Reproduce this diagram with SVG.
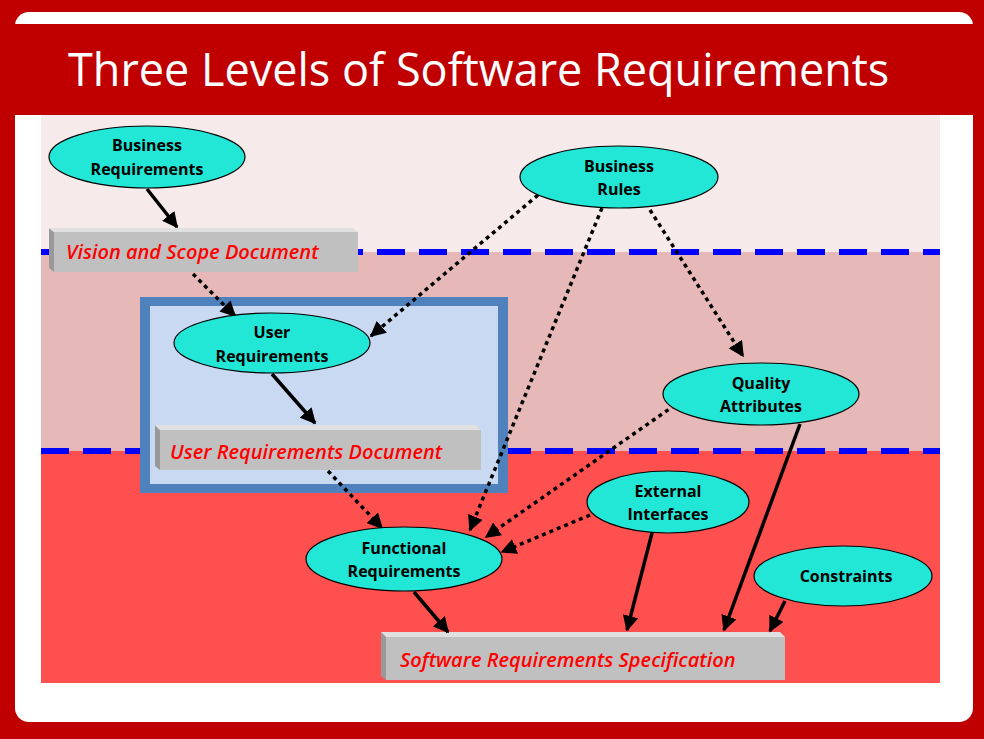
<svg xmlns="http://www.w3.org/2000/svg" width="984" height="739" viewBox="0 0 984 739">
<defs>
<style>
.n{fill:#22E6D6;stroke:#000;stroke-width:1.2}
.nt{font-family:"Open Sans","Liberation Sans",sans-serif;font-weight:bold;font-size:16px;fill:#000;text-anchor:middle}
.dt{font-family:"Open Sans","Liberation Sans",sans-serif;font-style:italic;font-weight:600;font-size:20px;fill:#FF0000}
.s{stroke:#000;stroke-width:3.5;fill:none;marker-end:url(#a)}
.d{stroke:#000;stroke-width:3.5;stroke-dasharray:4,4;fill:none;marker-end:url(#a)}
.dash{stroke:#0000FF;stroke-width:6;stroke-dasharray:28,14}
</style>
<marker id="a" viewBox="0 0 10 10" refX="9" refY="5" markerWidth="4.5" markerHeight="4.5" orient="auto" markerUnits="strokeWidth"><path d="M0,0L10,5L0,10z" fill="#000"/></marker>
</defs>
<rect width="984" height="739" fill="#C00000"/>
<rect x="15" y="12" width="958" height="710" rx="14" fill="#fff"/>
<rect x="15" y="24" width="969" height="91" fill="#C00000"/>
<text x="68" y="86" font-family="Open Sans,Liberation Sans,sans-serif" font-size="45" fill="#fff">Three Levels of Software Requirements</text>
<rect x="41" y="115" width="899" height="137" fill="#F7EAEA"/>
<rect x="41" y="252" width="899" height="199" fill="#E6B9B8"/>
<rect x="41" y="451" width="899" height="232" fill="#FF5050"/>
<line class="dash" x1="41" y1="252" x2="940" y2="252"/>
<line class="dash" x1="41" y1="451" x2="940" y2="451"/>
<g id="urbox"><rect x="140" y="297" width="368" height="196" fill="#4F81BD"/><rect x="150" y="306" width="348" height="178" fill="#C9D9F2"/></g>
<g id="vision"><polygon points="49,228 54,232 54,272 49,268" fill="#999"/><polygon points="49,228 353,228 358,232 54,232" fill="#e0e0e0"/><rect x="54" y="232" width="304" height="40" fill="#C0C0C0"/><text class="dt" x="66" y="259">Vision and Scope Document</text></g>
<g id="urd"><polygon points="155,425 160,430 160,470 155,466" fill="#999"/><polygon points="155,425 476,425 481,430 160,430" fill="#e0e0e0"/><rect x="160" y="430" width="321" height="40" fill="#C0C0C0"/><text class="dt" x="170" y="459">User Requirements Document</text></g>
<g id="srs"><polygon points="381,632 386,637 386,680 381,676" fill="#999"/><polygon points="381,632 780,632 785,637 386,637" fill="#e0e0e0"/><rect x="386" y="637" width="399" height="43" fill="#C0C0C0"/><text class="dt" x="400" y="667">Software Requirements Specification</text></g>
<g id="connectors">
<line class="s" x1="147" y1="189" x2="177" y2="227"/>
<line class="s" x1="272" y1="374" x2="315" y2="423"/>
<line class="s" x1="414" y1="592" x2="448" y2="632"/>
<line class="s" x1="652" y1="533" x2="627" y2="630"/>
<line class="s" x1="800" y1="424" x2="724" y2="630"/>
<line class="s" x1="785" y1="601" x2="770" y2="631"/>
<line class="d" x1="193" y1="274" x2="235" y2="316"/>
<line class="d" x1="538" y1="195" x2="371" y2="336"/>
<line class="d" x1="602" y1="208" x2="470" y2="530"/>
<line class="d" x1="650" y1="210" x2="743" y2="356"/>
<line class="d" x1="328" y1="471" x2="382" y2="528"/>
<line class="d" x1="675" y1="405" x2="486" y2="537"/>
<line class="d" x1="590" y1="515" x2="502" y2="552"/>
</g>
<g id="br"><ellipse class="n" cx="147" cy="157" rx="98" ry="31"/><text class="nt" x="147" y="151">Business</text><text class="nt" x="147" y="175">Requirements</text></g>
<g id="rules"><ellipse class="n" cx="619" cy="177" rx="99" ry="31"/><text class="nt" x="619" y="172">Business</text><text class="nt" x="619" y="195">Rules</text></g>
<g id="ur"><ellipse class="n" cx="272" cy="343" rx="98" ry="30"/><text class="nt" x="272" y="338">User</text><text class="nt" x="272" y="362">Requirements</text></g>
<g id="qa"><ellipse class="n" cx="761" cy="394" rx="98" ry="31"/><text class="nt" x="761" y="389">Quality</text><text class="nt" x="761" y="412">Attributes</text></g>
<g id="ei"><ellipse class="n" cx="668" cy="502" rx="81" ry="31"/><text class="nt" x="668" y="497">External</text><text class="nt" x="668" y="520">Interfaces</text></g>
<g id="fr"><ellipse class="n" cx="404" cy="559" rx="98" ry="32"/><text class="nt" x="404" y="554">Functional</text><text class="nt" x="404" y="577">Requirements</text></g>
<g id="con"><ellipse class="n" cx="843" cy="576" rx="89" ry="30"/><text class="nt" x="846" y="582">Constraints</text></g>
</svg>
